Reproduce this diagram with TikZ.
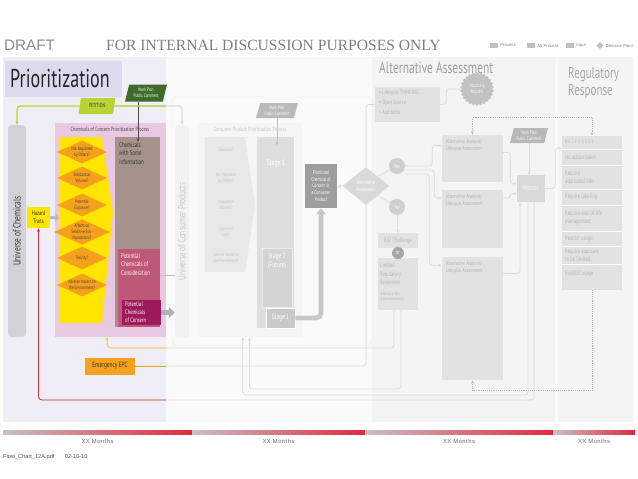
\documentclass[tikz,border=0pt]{standalone}
\usepackage{fontspec}
\setmainfont{PT Sans}[FakeStretch=0.7]
\newfontfamily\serifhead{Liberation Serif}
\newfontfamily\plainsans{Liberation Sans}
\usetikzlibrary{positioning,fit,shapes.geometric,arrows.meta,calc}
\definecolor{lavbg}{HTML}{EFEEF6}
\definecolor{lavtitle}{HTML}{DEDAEE}
\definecolor{pinkbg}{HTML}{E9C8E1}
\definecolor{chemyellow}{HTML}{FFE500}
\definecolor{qorange}{HTML}{F6A11C}
\definecolor{taupe}{HTML}{A5928B}
\definecolor{considrose}{HTML}{BE5877}
\definecolor{concernmag}{HTML}{A0195C}
\definecolor{wpgreen}{HTML}{3E6B2C}
\definecolor{petgreen}{HTML}{B7D435}
\definecolor{hazred}{HTML}{D2333D}
\definecolor{epcorange}{HTML}{F5A21E}
\definecolor{fadefill}{HTML}{E2E2E2}
\definecolor{fadetext}{HTML}{B5B5B5}
\definecolor{fadegray}{HTML}{DADADA}
\definecolor{fadepanel}{HTML}{F4F4F4}
\definecolor{barstart}{HTML}{C9C0C3}
\definecolor{barend}{HTML}{DF2B3B}
\newcommand\pxl{0.3mm}
\tikzset{
  every node/.style={inner sep=0pt},
  question/.style={diamond, aspect=2.2, fill=qorange, minimum width=50*\pxl, minimum height=23*\pxl,
    align=center, text=black!75, font=\fontsize{4.2}{4.9}\selectfont},
  workplan/.style={trapezium, trapezium left angle=72, trapezium right angle=108, trapezium stretches=true,
    minimum width=42*\pxl, minimum height=17*\pxl, align=center, text=white, font=\fontsize{4.3}{5}\selectfont},
  fadeline/.style={draw=fadegray, line width=0.6pt, rounded corners=2.5pt},
  dotline/.style={draw=black!28, densely dotted, line width=0.6pt},
  petline/.style={draw=petgreen, line width=1.1pt, rounded corners=3pt},
  fadetxt/.style={text=fadetext, align=left, font=\fontsize{5}{5.8}\selectfont},
  legendtxt/.style={text=black!50, font=\plainsans\fontsize{3.6}{4}\selectfont},
  months/.style={text=black!60, font=\plainsans\fontsize{5}{6}\selectfont\addfontfeature{LetterSpace=8}},
}
\begin{document}
\begin{tikzpicture}[x=\pxl, y=-\pxl, >={Stealth[length=3pt,width=2.5pt]}]
\useasboundingbox (0,0) rectangle (638,478);
\fill[white] (0,0) rectangle (638,478);

% header and legend
\node[anchor=west, text=black!45, font=\plainsans\fontsize{13}{13}\selectfont] (draft) at (4,45) {DRAFT};
\node[anchor=west, text=black!50, font=\serifhead\fontsize{13.3}{14}\selectfont] (internal) at (106,45) {FOR INTERNAL DISCUSSION PURPOSES ONLY};
\node[fit={(490,43) (498,48)}, fill=black!25] (lgproc) {};
\node[right=0.6mm of lgproc, legendtxt] (lgproctxt) {Process};
\node[fit={(527,43) (535,48)}, fill=black!25] (lgalt) {};
\node[right=0.6mm of lgalt, legendtxt] (lgalttxt) {Alt Process};
\node[fit={(566,43) (574,48)}, fill=black!25] (lginput) {};
\node[right=0.6mm of lginput, legendtxt] (lginputtxt) {Input};
\node[diamond, fill=black!25, minimum size=7*\pxl] (lgdec) at (600,45.5) {};
\node[right=0.6mm of lgdec, legendtxt] (lgdectxt) {Decision Point};

% panels
\fill[lavbg] (3,57) rectangle (166,422);
\fill[black!2] (166,57) rectangle (634,422);
\fill[fadepanel] (372,57) rectangle (555,422);
\fill[fadepanel] (558,57) rectangle (633,422);
\draw[draw=black!8, rounded corners=4pt] (172,97) rectangle (372,345);

% prioritization
\node[fit={(5,61) (122,97)}, fill=lavtitle] (titlebox) {};
\node[anchor=west, text=black!85, font=\fontsize{22}{22}\selectfont] (title) at (10,79) {Prioritization};
\node[fit={(8,125) (26,337)}, fill=black!12!lavbg, rounded corners=3pt] (uchem) {};
\node[rotate=90, text=black!80, font=\fontsize{9}{9}\selectfont] (uchemtxt) at (uchem) {Universe of Chemicals};
\node[workplan, fill=petgreen, text=black!80, minimum width=37*\pxl, minimum height=16*\pxl,
  font=\fontsize{4.8}{5}\selectfont] (petition) at (97,106) {PETITION};
\node[workplan, fill=wpgreen] (wpchem) at (146,93) {Work Plan\\Public Comment};

\node[fit={(55,123) (166,337)}, fill=pinkbg] (coc) {};
\node[text=black!70, font=\fontsize{5.2}{6}\selectfont] (coclabel) at (110,129) {Chemicals of Concern Prioritization Process};
\fill[chemyellow] (60,137) -- (102,137) -- (113,212) -- (102,323) -- (60,323) -- cycle;
\coordinate (ycolin) at (59,218);
\foreach \qy/\qtxt [count=\qi] in {152/{Not Regulated\\by Others?}, 178/{Substantial\\Volume?},
    205/{Potential\\Exposure?}, 232/{Affects on\\Sensitive Sub-\\Populations?}, 258/{Toxicity?},
    285/{Adverse Impact on\\the Environment?}}
  \node[question] (q\qi) at (82,\qy) {\qtxt};

\node[fit={(115,137) (160,327)}, fill=taupe] (info) {};
\node[anchor=north west, align=left, text=black!80, font=\fontsize{6}{7.2}\selectfont] (infotxt) at (119,142) {Chemicals\\with Some\\Information};
\node[fit={(118,249) (160,327)}, fill=considrose] (consid) {};
\node[anchor=north west, align=left, text=white!85!pink, font=\fontsize{6}{7.2}\selectfont] (considtxt) at (121,253) {Potential\\Chemicals of\\Consideration};
\node[fit={(122,300) (161,325)}, fill=concernmag] (concern) {};
\node[anchor=north west, align=left, text=white, font=\fontsize{5.6}{6.6}\selectfont] (concerntxt) at (125,302) {Potential\\Chemicals\\of Concern};

\node[fill=chemyellow, minimum width=23*\pxl, minimum height=21*\pxl, align=center, text=black!80,
  font=\fontsize{5.5}{6.4}\selectfont] (hazard) at (38.5,217.5) {Hazard\\Traits};
\node[fill=epcorange, minimum width=50*\pxl, minimum height=17*\pxl, text=black!80,
  font=\fontsize{6.5}{7}\selectfont] (epc) at (110,366) {Emergency EPC};

% consumer products
\node[fit={(175,125) (189,338)}, fill=black!5, rounded corners=3pt] (ucons) {};
\node[rotate=90, text=black!22, font=\fontsize{9}{9}\selectfont] (uconstxt) at (ucons) {Universe of Consumer Products};
\node[fit={(197,123) (302,337)}, fill=black!4] (cpp) {};
\node[text=black!22, font=\fontsize{5.2}{6}\selectfont] (cpplabel) at (250,129) {Consumer Product Prioritization Process};
\fill[black!9] (205,137) -- (245,137) -- (255,205) -- (245,272) -- (205,272) -- cycle;
\foreach \cy/\ctxt [count=\ci] in {150/{Exposure?}, 178/{Not Regulated\\by Others?}, 205/{Population\\Affected?},
    232/{Consumer\\Use?}, 258/{Adverse Impact on\\the Environment?}}
  \node[align=center, text=black!25, font=\fontsize{4}{4.8}\selectfont] (cq\ci) at (226,\cy) {\ctxt};
\node[fit={(257,137) (294,328)}, fill=black!13] (stages) {};
\node[text=white, font=\fontsize{7}{8}\selectfont] (stagetop) at (276,163) {Stage 1};
\node[fit={(262,248) (292,307)}, fill=black!17, draw=black!8, line width=0.4pt] (stage2) {};
\node[anchor=north, align=center, text=white, font=\fontsize{6.5}{7.5}\selectfont] (stage2txt) at (277,253) {Stage 2\\(Future)};
\node[minimum width=29*\pxl, minimum height=20*\pxl, fill=black!21, draw=white, line width=0.5pt,
  text=white, font=\fontsize{6.5}{7}\selectfont] (stage1) at (280.5,318) {Stage 1};
\node[workplan, fill=black!27, minimum height=15*\pxl] (wpcons) at (277,110.5) {Work Plan\\Public Comment};
\node[minimum width=32*\pxl, minimum height=44*\pxl, fill=black!38, text=white, align=center,
  font=\fontsize{4.6}{5.6}\selectfont] (prior) at (321,186) {Prioritized\\Chemical of\\Concern in\\a Consumer\\Product};

% alternative assessment
\node[anchor=west, text=black!38, font=\fontsize{14}{14}\selectfont] (aahead) at (379,68) {Alternative Assessment};
\node[fit={(375,87) (440,122)}, fill=fadefill] (bullets) {};
\node[anchor=north west, fadetxt, font=\fontsize{5.3}{8.5}\selectfont] (bullettxt) at (379,90) {• Lifecycle THINKING\\• Open Source\\• Auditable};
\node[star, star points=26, star point ratio=1.12, fill=black!24, minimum size=34*\pxl, text=white, align=center,
  font=\fontsize{4.5}{5.2}\selectfont] (registry) at (477,89) {Voluntary\\Registry};
\node[diamond, aspect=1.25, fill=black!15, minimum width=47*\pxl, minimum height=38*\pxl, text=white, align=center,
  font=\fontsize{4.8}{5.6}\selectfont] (aad) at (366,186) {Alternative\\Assessment};
\node[circle, fill=black!19, minimum size=16*\pxl, text=white, font=\fontsize{5}{5}\selectfont] (yes) at (397,166) {Yes};
\node[circle, fill=black!19, minimum size=16*\pxl, text=white, font=\fontsize{5}{5}\selectfont] (no) at (397,207) {No};
\node[minimum width=40*\pxl, minimum height=15*\pxl, fill=fadefill, text=fadetext,
  font=\fontsize{5.5}{6}\selectfont] (rd) at (398,240.5) {R/D Challenge};
\node[fit={(378,258) (418,310)}, fill=fadefill] (limited) {};
\node[circle, fill=black!35, minimum size=12*\pxl, text=white, font=\fontsize{5}{5}\selectfont] (orc) at (398,253) {or};
\node[anchor=north west, fadetxt, font=\fontsize{5.5}{7}\selectfont] (limitedtxt) at (380,263) {Limited\\Regulatory\\Responses};
\node[anchor=north west, fadetxt, font=\fontsize{3.6}{4.4}\selectfont] (limitedsub) at (380,292) {(Take Back, Risk,\\Green Assessment)};

\node[fit={(442,135) (503,182)}, fill=fadefill] (alt1) {};
\node[fit={(442,190) (503,248)}, fill=fadefill] (alt2) {};
\node[fit={(442,257) (503,380)}, fill=fadefill] (alt3) {};
\foreach \i in {1,2,3}
  \node[anchor=north west, fadetxt] (altlbl\i) at ([xshift=1.2mm,yshift=-1.4mm]alt\i.north west) {Alternative Analysis/\\Lifecycle Assessment};
\node[workplan, fill=black!28, minimum width=38*\pxl, minimum height=15*\pxl] (wpalt) at (529,135.5) {Work Plan\\Public Comment};
\node[minimum width=28*\pxl, minimum height=27*\pxl, fill=black!15, text=white,
  font=\fontsize{5}{5}\selectfont] (process) at (531,188.5) {PROCESS};

% regulatory response
\node[anchor=west, align=left, text=black!35, font=\fontsize{13.5}{15}\selectfont] (rrhead) at (568,83) {Regulatory\\Response};
\node[fit={(562,136) (622,290)}, fill=fadefill] (responses) {};
\foreach \sy in {149,165,189,205,231,246,264}
  \draw[white, line width=0.5pt] (responses.west |- 0,\sy) -- (responses.east |- 0,\sy);
\node[anchor=west, text=fadetext, font=\fontsize{4}{4}\selectfont\addfontfeature{LetterSpace=30}] (resphead) at (565,142) {RESPONSES};
\foreach \ry/\rtxt [count=\ri] in {157/{No action taken}, 177/{Require\\additional info}, 197/{Require labeling},
    218/{Require end-of-life\\management}, 239/{Restrict usage}, 255/{Require exposure\\to be limited}, 274/{Prohibit usage}}
  \node[anchor=west, fadetxt, font=\fontsize{5.6}{6.6}\selectfont] (resp\ri) at (565,\ry) {\rtxt};

% connectors, left panel
\draw[petline,->] (petition.west) -| (uchem.north);
\draw[fadeline, line width=1.1pt, ->] (petition.east) -| (ucons.north);
\draw[black!70, line width=0.5pt, ->] ([xshift=-2.4mm]wpchem.south) -- ++(0,40);
\draw[black!28, line width=2.5pt, -{Triangle[length=3pt,width=6pt]}] (hazard.east) -- (ycolin);
\draw[black!30, line width=3.5pt, -{Triangle[length=5pt,width=9pt]}] (concern.east) -- (ucons.west |- concern.east);
\coordinate (considout) at ([yshift=3.9mm]consid.east);
\draw[black!25, line width=0.5pt] (considout) -- (ucons.west |- considout);

\coordinate (redturn) at (534,400);
\coordinate (grayturn) at (528,395);
\coordinate (limturn) at (401,389);
\coordinate (yturn) at (394,348);
\draw[fadeline, <-] (hazard.south) |- (redturn) -- (redturn |- process.south);
\draw[fadeline, <-] ([xshift=-1mm]coc.south) |- (yturn) -- (yturn |- limited.south);
\draw[fadeline] (epc.east) -| (aad.south);
\begin{scope}
  \clip (3,57) rectangle (166,422);
  \draw[petline,->] (petition.east) -| (ucons.north);
  \draw[hazred, line width=0.7pt, rounded corners=3pt, <-] (hazard.south) |- (redturn) -- (redturn |- process.south);
  \draw[chemyellow!85!orange, line width=0.7pt, rounded corners=3pt, <-] ([xshift=-1mm]coc.south) |- (yturn) -- (yturn |- limited.south);
  \draw[epcorange, line width=0.7pt] (epc.east) -| (aad.south);
\end{scope}

% connectors, faded part
\draw[fadeline, <-] ([xshift=-2mm]cpp.south) |- (grayturn) -- (grayturn |- process.south);
\draw[fadeline, <-] (cpp.south) |- (limturn) -- (limturn |- limited.south);
\draw[black!25, line width=0.5pt, ->] (wpcons.south) -- ++(0,27);
\draw[black!22, line width=4pt, rounded corners=4pt, -{Triangle[length=5pt,width=8pt]}] (stage1.east) -| (prior.south);
\draw[fadeline, ->] (prior.east) -- (aad.west);
\draw[fadeline] (aad.north) |- (bullets.west);
\draw[fadeline] (bullets.east) -- ++(6,0) |- (registry.west);
\draw[fadeline] (aad.north east) -- (yes);
\draw[fadeline] (aad.south east) -- (no);
\draw[fadeline, ->] (no) -- (rd);
\draw[fadeline, ->] (yes.east) -- ++(27,0) |- ([yshift=3.9mm]alt1.west);
\draw[fadeline, ->] ([yshift=-1.2mm]yes.east) -- ++(29,0) |- ([yshift=6.3mm]alt2.west);
\draw[fadeline, ->] ([yshift=-2.4mm]yes.east) -- ++(24,0) |- ([yshift=16mm]alt3.west);
\draw[fadeline, ->] ([yshift=1.8mm]alt1.east) -- ++(7,0) |- ([yshift=1.5mm]process.west);
\draw[fadeline, ->] ([yshift=6.3mm]alt2.east) -- ++(7,0) |- ([yshift=-1.5mm]process.west);
\draw[fadeline, ->] ([yshift=13.5mm]alt3.east) -| ([xshift=-3.3mm]process.south);
\draw[fadeline, ->] (wpalt.south) -- (wpalt.south |- process.north);
\draw[fadeline, ->] (process.east) -- ++(10,0) |- ([yshift=19.5mm]responses.west);
\draw[dotline, <->] (alt1.north) -- ++(0,-17) -| (responses.north);
\draw[dotline, ->] (responses.south) -- ++(0,100) -| (alt3.south);

% timeline and footer
\foreach \sx/\ex [count=\ti] in {3/192, 192/365, 365/553, 553/635} {
  \shade[left color=barstart, right color=barend] (\sx,430) rectangle (\ex,434);
  \node[months] (months\ti) at ({(\sx+\ex)/2},441) {XX Months};
}
\node[anchor=west, text=black!70, font=\plainsans\fontsize{4.8}{5}\selectfont] (fname) at (3,457) {Flow\_Chart\_12A.pdf};
\node[right=3mm of fname, text=black!70, font=\plainsans\fontsize{4.8}{5}\selectfont] (fdate) {02-10-10};
\end{tikzpicture}
\end{document}
